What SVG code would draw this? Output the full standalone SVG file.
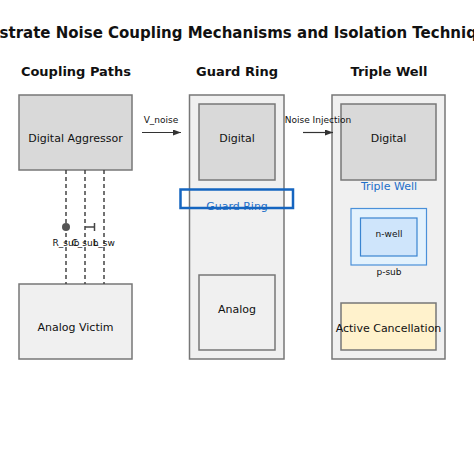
<svg xmlns="http://www.w3.org/2000/svg" width="474" height="474" viewBox="0 0 474 474">
<defs>
<marker id="arr" markerWidth="8" markerHeight="6" refX="8" refY="3" orient="auto" markerUnits="userSpaceOnUse">
<path d="M0,0 L8,3 L0,6 Z" fill="#333"/>
</marker>
<style>
text{font-family:"DejaVu Sans",sans-serif;fill:#111;}
.title{font-size:15px;font-weight:bold;text-anchor:middle;}
.hdr{font-size:13px;font-weight:bold;text-anchor:middle;}
.lbl{font-size:11px;text-anchor:middle;}
.sm{font-size:9px;text-anchor:middle;}
.dig{fill:#d9d9d9;stroke:#777;stroke-width:1.5;}
.ana{fill:#f0f0f0;stroke:#777;stroke-width:1.5;}
.dash{stroke:#444;stroke-width:1.5;stroke-dasharray:4,3;fill:none;}
.blue{fill:#1e6fc8;}
.conn{stroke:#333;stroke-width:1.2;fill:none;}
</style>
</defs>
<rect width="474" height="474" fill="#fff"/>
<text class="title" x="237" y="38">Substrate Noise Coupling Mechanisms and Isolation Techniques</text>
<text class="hdr" x="76" y="76">Coupling Paths</text>
<text class="hdr" x="237" y="76">Guard Ring</text>
<text class="hdr" x="389" y="76">Triple Well</text>

<g id="coupling-paths">
<g id="digital-aggressor">
<rect class="dig" x="19" y="95" width="113" height="75"/>
<text class="lbl" x="75.5" y="142">Digital Aggressor</text>
</g>
<g id="analog-victim">
<rect class="ana" x="19" y="284" width="113" height="75"/>
<text class="lbl" x="75.5" y="331">Analog Victim</text>
</g>
</g>

<g id="guard-ring-col">
<rect class="ana" x="189.5" y="95" width="94.5" height="264"/>
<g id="gr-digital">
<rect class="dig" x="199" y="104" width="76" height="76"/>
<text class="lbl" x="237" y="142">Digital</text>
</g>
<g id="guard-ring">
<text class="lbl blue" x="237" y="210">Guard Ring</text>
<rect x="180.5" y="189.5" width="112.5" height="18.5" fill="none" stroke="#1565c0" stroke-width="2.5"/>
</g>
<g id="gr-analog">
<rect class="ana" x="199" y="275" width="76" height="75"/>
<text class="lbl" x="237" y="313">Analog</text>
</g>
</g>

<g id="triple-well-col">
<rect class="ana" x="332" y="95" width="113" height="264"/>
<g id="tw-digital">
<rect class="dig" x="341" y="104" width="95" height="76"/>
<text class="lbl" x="388.5" y="142">Digital</text>
</g>
<text class="lbl blue" x="389" y="190">Triple Well</text>
<g id="p-sub">
<rect x="351" y="208.5" width="75.5" height="56.5" fill="#e3f2fd" stroke="#4a90d9" stroke-width="1.2"/>
<text class="sm" x="389" y="275">p-sub</text>
</g>
<g id="n-well">
<rect x="360.5" y="218" width="56.5" height="38" fill="#cfe5fb" stroke="#3a84d0" stroke-width="1.2"/>
<text class="sm" x="389" y="237">n-well</text>
</g>
<g id="active-cancellation">
<rect x="341" y="303" width="95" height="47" fill="#fff2cc" stroke="#777" stroke-width="1.5"/>
<text class="lbl" x="388.5" y="332">Active Cancellation</text>
</g>
</g>

<g id="connectors">
<line class="dash" x1="66" y1="170" x2="66" y2="284"/>
<line class="dash" x1="85" y1="170" x2="85" y2="284"/>
<line class="dash" x1="104" y1="170" x2="104" y2="284"/>
<circle cx="66" cy="227" r="4" fill="#555"/>
<path d="M85,227 H94.5 M94.5,223 V231" stroke="#444" stroke-width="1.5" fill="none"/>
<text class="sm" x="66" y="246">R_sub</text>
<text class="sm" x="85" y="246">C_sub</text>
<text class="sm" x="104" y="246">L_sw</text>
<line class="conn" x1="142" y1="132.5" x2="181" y2="132.5" marker-end="url(#arr)"/>
<text class="sm" x="161" y="123">V_noise</text>
<line class="conn" x1="303" y1="132.5" x2="333" y2="132.5" marker-end="url(#arr)"/>
<text class="sm" x="318" y="123">Noise Injection</text>
</g>
</svg>
